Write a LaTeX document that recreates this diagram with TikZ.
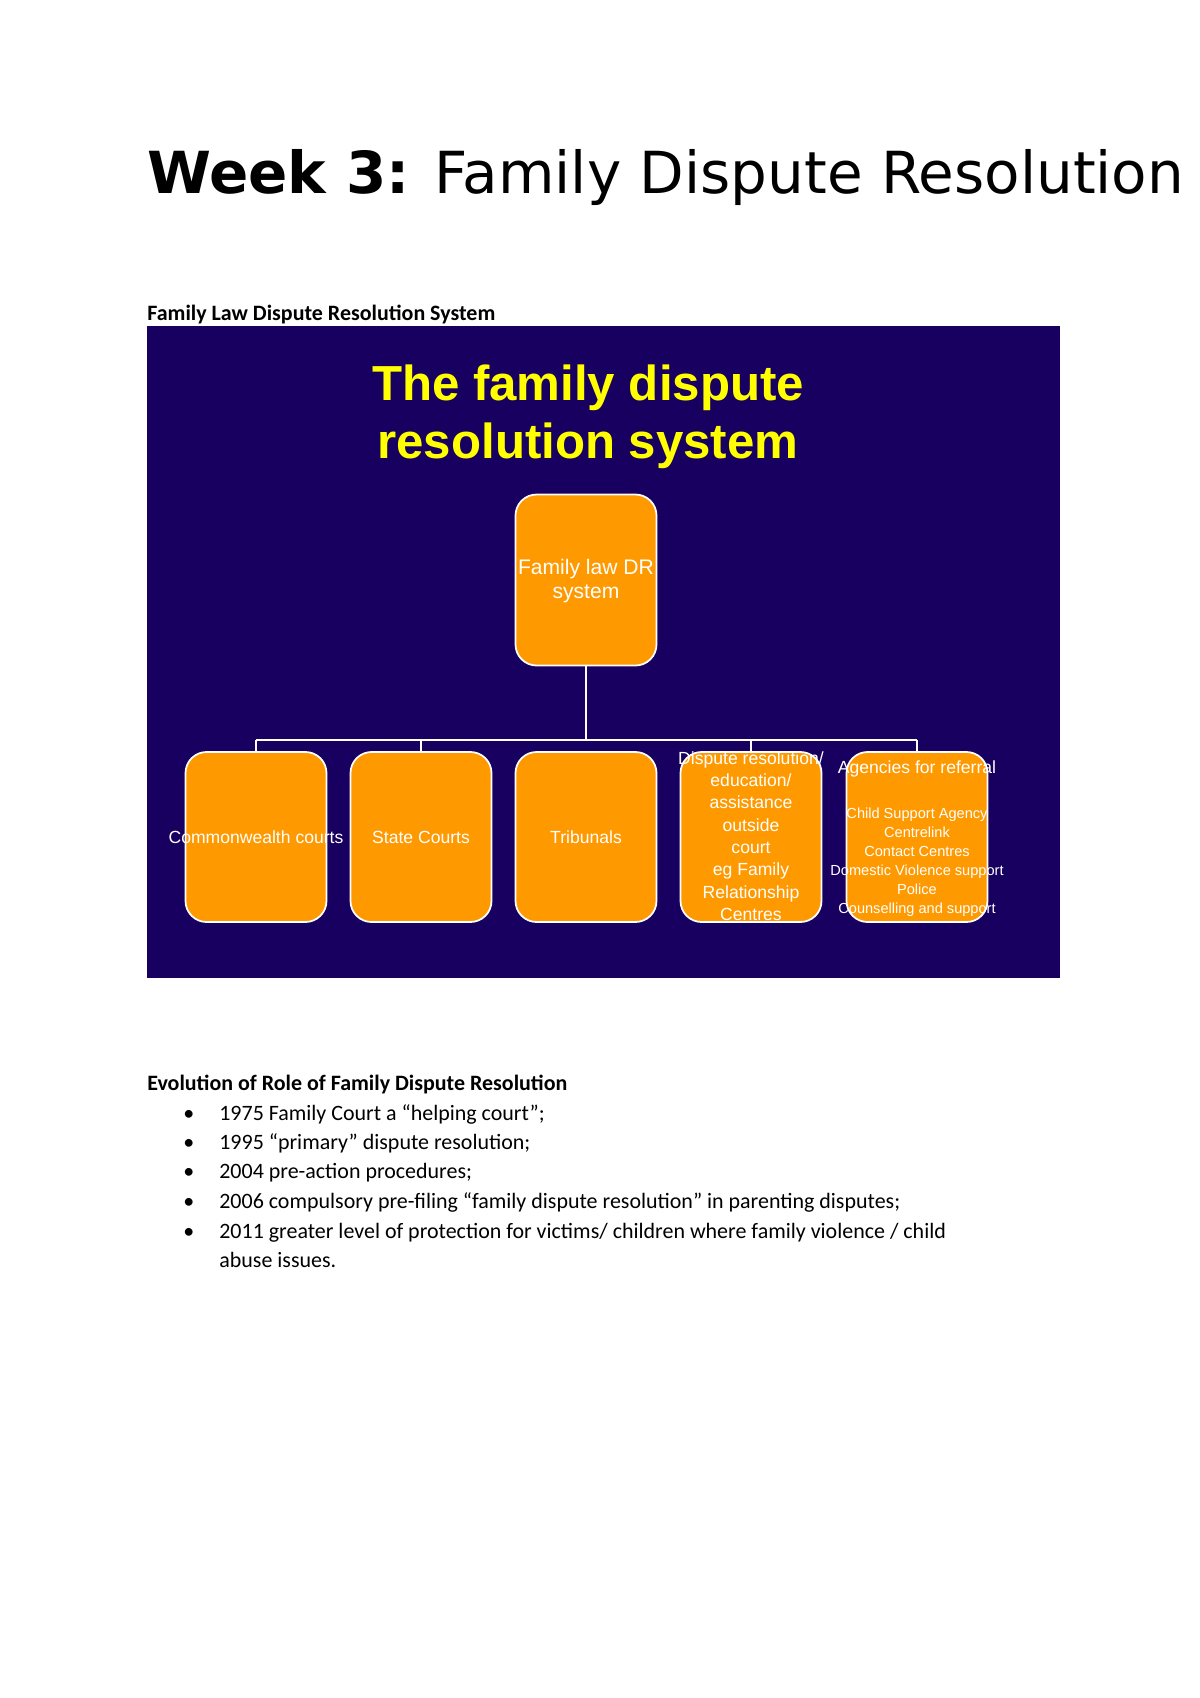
\documentclass[tikz,border=0pt]{standalone}
\usepackage{fontspec}
\setmainfont{Carlito}
\newfontfamily\djv{DejaVu Sans}
\newfontfamily\lib{Liberation Sans}
\definecolor{navy}{HTML}{170060}
\definecolor{orng}{HTML}{FF9900}
\definecolor{yel}{HTML}{FFFF00}
\begin{document}
\begin{tikzpicture}[x=0.02cm,y=-0.02cm,
 obox/.style={draw=white,line width=1pt,fill=orng,rounded corners=12pt,minimum width=141*0.02cm,inner sep=0pt},
 wt/.style={text=white,font=\lib\fontsize{10}{12}\selectfont,align=center},
 link/.style={draw=white,line width=1.6pt},
 bl/.style={anchor=base west,font=\fontsize{12.5}{15}\selectfont}]
\useasboundingbox (0,0) rectangle (1200,1698);
\fill[white] (0,0) rectangle (1200,1698);
\node[anchor=base west,inner sep=0] (t) at (147,193) {\djv\fontsize{33}{40}\selectfont\textbf{Week 3:} Family Dispute Resolution};
\node[anchor=base west,inner sep=0,font=\bfseries\fontsize{12.5}{15}\selectfont] (h1) at (147,320) {Family Law Dispute Resolution System};
\fill[navy] (147,326) rectangle (1060,978);
\node[text=yel,font=\lib\bfseries\fontsize{28}{34}\selectfont,align=center] (dt) at (588,417) {The family dispute\\[-1pt]resolution system};
\node[obox,minimum height=171*0.02cm] (top) at (586,580) {};
\node[wt,font=\lib\fontsize{12}{14}\selectfont] at (586,581) {Family law DR\\system};
\coordinate (j) at (586,740);
\foreach \n/\x in {a/256,b/421,c/586,d/751,e/917}{
 \node[obox,minimum height=170*0.02cm] (\n) at (\x,837) {};
 \coordinate (\n t) at (\x,740);
}
\draw[link] (top.south) -- (j);
\draw[link] (at) -- (et);
\foreach \n in {a,b,d,e}{\draw[link] (\n t) -- (\n.north);}
\node[wt] at (256,837) {Commonwealth courts};
\node[wt] at (421,837) {State Courts};
\node[wt] at (586,837) {Tribunals};
\node[wt,font=\lib\fontsize{10}{12.7}\selectfont] at (751,836) {Dispute resolution/\\education/\\assistance\\outside\\court\\eg Family\\Relationship\\Centres};
\node[wt] at (917,769) {Agencies for referral};
\node[wt,font=\lib\fontsize{8.3}{10.8}\selectfont] at (917,862) {Child Support Agency\\Centrelink\\Contact Centres\\Domestic Violence support\\Police\\Counselling and support};
\node[anchor=base west,inner sep=0,font=\bfseries\fontsize{12.5}{15}\selectfont] (h2) at (147,1090) {Evolution of Role of Family Dispute Resolution};
\foreach \y/\s in {1120/{1975 Family Court a “helping court”;},1149/{1995 “primary” dispute resolution;},1178/{2004 pre-action procedures;},1208/{2006 compulsory pre-filing “family dispute resolution” in parenting disputes;},1238/{2011 greater level of protection for victims/ children where family violence / child}}{
 \node[bl,inner sep=0] at (183,\y) {•};
 \node[bl,inner sep=0] at (219,\y) {\s};
}
\node[bl,inner sep=0] (last) at (219,1267) {abuse issues.};
\end{tikzpicture}
\end{document}
